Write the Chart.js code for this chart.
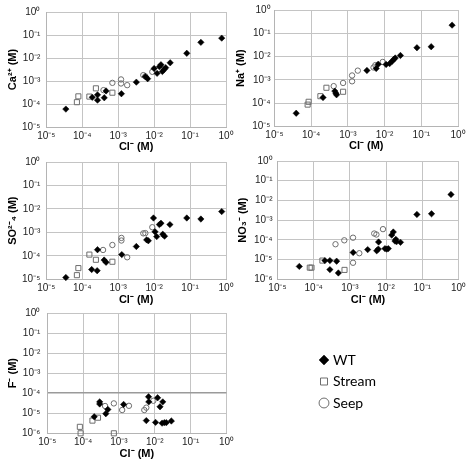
<!DOCTYPE html>
<html>
<head>
<meta charset="utf-8">
<script src="https://cdn.jsdelivr.net/npm/chart.js@4.4.0/dist/chart.umd.min.js"></script>
<style>
  body { margin: 0; background: #fff; }
  #wrap { position: relative; width: 474px; height: 468px; overflow: hidden; }
  .panel { position: absolute; }
</style>
</head>
<body>
<div id="wrap">
  <div class="panel" style="left:0;top:0;width:237px;height:156px"><canvas id="ca"></canvas></div>
  <div class="panel" style="left:233px;top:0;width:241px;height:156px"><canvas id="na"></canvas></div>
  <div class="panel" style="left:0;top:150px;width:237px;height:156px"><canvas id="so4"></canvas></div>
  <div class="panel" style="left:233px;top:150px;width:241px;height:156px"><canvas id="no3"></canvas></div>
  <div class="panel" style="left:0;top:300px;width:237px;height:168px"><canvas id="f"></canvas></div>
  <div class="panel" style="left:300px;top:330px;width:174px;height:100px"><canvas id="legend"></canvas></div>
</div>
<script>
// axis ticks (decades)
const xTicks = [1e-5, 1e-4, 1e-3, 1e-2, 1e-1, 1];
const xTickLabels = ['10⁻⁵', '10⁻⁴', '10⁻³', '10⁻²', '10⁻¹', '10⁰'];
const yTicks5 = [1e-5, 1e-4, 1e-3, 1e-2, 1e-1, 1];
const yTickLabels5 = ['10⁻⁵', '10⁻⁴', '10⁻³', '10⁻²', '10⁻¹', '10⁰'];
const yTicks6 = [1e-6, 1e-5, 1e-4, 1e-3, 1e-2, 1e-1, 1];
const yTickLabels6 = ['10⁻⁶', '10⁻⁵', '10⁻⁴', '10⁻³', '10⁻²', '10⁻¹', '10⁰'];

const seriesNames = ['WT', 'Stream', 'Seep'];

// [Cl- (M), ion (M)]
const caWT = [[3.5e-5, 6.0e-5], [1.9e-4, 1.95e-4], [2.66e-4, 2.5e-4], [2.66e-4, 1.47e-4], [4.1e-4, 1.87e-4],
  [4.6e-4, 3.7e-4], [1.23e-3, 2.8e-4], [3.2e-3, 8.9e-4], [5.7e-3, 1.55e-3], [6.6e-3, 1.26e-3],
  [1.0e-2, 3.5e-3], [1.21e-2, 2.15e-3], [1.4e-2, 4.2e-3], [1.55e-2, 5.1e-3], [1.7e-2, 2.6e-3],
  [1.9e-2, 3.2e-3], [2.1e-2, 3.8e-3], [2.8e-2, 6.2e-3], [8.1e-2, 1.6e-2], [0.20, 4.8e-2], [0.76, 7.3e-2]];
const caStream = [[7.8e-5, 2.15e-4], [7.1e-5, 1.2e-4], [1.58e-4, 2.1e-4], [2.4e-4, 4.8e-4], [6.9e-4, 3.1e-4]];
const caSeep = [[3.9e-4, 4.0e-4], [6.9e-4, 8.3e-4], [1.2e-3, 1.17e-3], [1.2e-3, 7.8e-4], [1.78e-3, 6.6e-4],
  [5.0e-3, 1.8e-3], [5.7e-3, 1.6e-3], [8.9e-3, 2.5e-3]];

const naWT = [[3.9e-5, 3.7e-5], [2.1e-4, 1.75e-4], [4.4e-4, 3.3e-4], [4.7e-4, 2.7e-4], [4.9e-4, 2.3e-4],
  [3.3e-3, 2.55e-3], [5.9e-3, 3.1e-3], [6.7e-3, 4.7e-3], [1.1e-2, 4.6e-3], [1.37e-2, 5.0e-3],
  [1.6e-2, 6.3e-3], [1.77e-2, 7.6e-3], [1.95e-2, 8.7e-3], [2.7e-2, 1.12e-2], [7.6e-2, 2.4e-2],
  [0.186, 2.66e-2], [0.69, 0.224]];
const naStream = [[8.0e-5, 8.7e-5], [8.5e-5, 1.15e-4], [1.78e-4, 2.0e-4], [2.6e-4, 4.6e-4], [7.4e-4, 3.1e-4]];
const naSeep = [[4.1e-4, 5.4e-4], [7.4e-4, 7.4e-4], [1.3e-3, 1.55e-3], [1.3e-3, 8.7e-4], [1.86e-3, 2.5e-3],
  [5.0e-3, 3.4e-3], [5.6e-3, 4.3e-3], [8.9e-3, 5.9e-3]];

const so4WT = [[3.5e-5, 1.19e-5], [1.83e-4, 2.6e-5], [2.6e-4, 2.33e-5], [2.66e-4, 1.83e-4], [4.07e-4, 6.6e-5],
  [4.6e-4, 5.3e-5], [1.26e-3, 1.13e-4], [3.2e-3, 2.5e-4], [6.2e-3, 4.8e-4], [6.9e-3, 4.4e-4],
  [9.6e-3, 4.1e-3], [1.06e-2, 1.06e-3], [1.18e-2, 6.6e-4], [1.4e-2, 2.15e-3], [1.55e-2, 2.45e-3],
  [1.74e-2, 8.3e-4], [1.95e-2, 6.9e-4], [2.75e-2, 2.15e-3], [8.1e-2, 4.1e-3], [0.20, 3.7e-3], [0.76, 7.7e-3]];
const so4Stream = [[7.8e-5, 3.0e-5], [7.1e-5, 1.5e-5], [1.58e-4, 1.13e-4], [2.4e-4, 6.8e-5], [6.9e-4, 5.6e-5]];
const so4Seep = [[3.8e-4, 1.78e-4], [6.9e-4, 2.9e-4], [1.23e-3, 5.8e-4], [1.23e-3, 4.5e-4], [1.78e-3, 8.7e-5],
  [5.0e-3, 9.1e-4], [5.7e-3, 9.3e-4], [8.9e-3, 1.66e-3]];

const no3WT = [[4.0e-5, 4.5e-6], [2.04e-4, 8.9e-6], [2.8e-4, 8.9e-6], [4.3e-4, 8.3e-6], [2.8e-4, 3.1e-6],
  [4.8e-4, 2.1e-6], [1.23e-3, 2.3e-5], [3.1e-3, 3.2e-5], [5.5e-3, 2.8e-5], [6.1e-3, 3.4e-5],
  [6.2e-3, 7.8e-5], [9.3e-3, 3.6e-5], [1.04e-2, 3.4e-5], [1.15e-2, 3.6e-5], [1.43e-2, 1.74e-4],
  [1.58e-2, 2.5e-4], [1.76e-2, 8.7e-5], [1.86e-2, 1.06e-4], [1.95e-2, 8.1e-5], [2.5e-2, 7.5e-5],
  [7.1e-2, 1.95e-3], [0.18, 2.1e-3], [0.62, 2.0e-2]];
const no3Stream = [[7.8e-5, 3.9e-6], [8.7e-5, 3.9e-6], [1.74e-4, 8.9e-6], [7.1e-4, 3.0e-6]];
const no3Seep = [[4.0e-4, 6.0e-5], [7.0e-4, 9.5e-5], [1.22e-3, 1.29e-4], [1.22e-3, 6.9e-6], [1.82e-3, 2.1e-5],
  [4.7e-3, 2.1e-4], [5.4e-3, 1.87e-4], [8.2e-3, 3.5e-4]];

const fWT = [[2.04e-4, 6.7e-6], [2.9e-4, 3.7e-5], [2.9e-4, 2.9e-5], [4.3e-4, 9.5e-6], [4.9e-4, 1.55e-5],
  [1.35e-3, 2.75e-5], [5.8e-3, 4.3e-6], [6.7e-3, 6.6e-5], [6.8e-3, 3.7e-5], [1.05e-2, 3.5e-6],
  [1.2e-2, 5.9e-5], [1.4e-2, 2.1e-5], [1.67e-2, 3.7e-5], [1.6e-2, 3.2e-6], [1.85e-2, 3.4e-6],
  [2.1e-2, 3.4e-6], [2.9e-2, 4.1e-6]];
const fStream = [[8.1e-5, 2.1e-6], [8.5e-5, 1.0e-6], [1.82e-4, 4.3e-6], [2.6e-4, 6.0e-6], [7.2e-4, 1.0e-6]];
const fSeep = [[4.1e-4, 2.3e-5], [7.2e-4, 3.1e-5], [1.23e-3, 1.45e-5], [1.9e-3, 2.35e-5], [5.1e-3, 1.45e-5],
  [5.8e-3, 1.9e-5], [9.1e-3, 4.2e-5]];

Chart.defaults.font.family = '"Liberation Sans", Arial, sans-serif';
Chart.defaults.color = '#222';

const markerStyles = {
  WT: { pointStyle: 'rectRot', pointRadius: 3.2, backgroundColor: '#000', borderColor: '#000', borderWidth: 0.5 },
  Stream: { pointStyle: 'rect', pointRadius: 3.6, backgroundColor: 'rgba(255,255,255,0)', borderColor: '#6e6e6e', borderWidth: 1 },
  Seep: { pointStyle: 'circle', pointRadius: 2.7, backgroundColor: 'rgba(255,255,255,0)', borderColor: '#6e6e6e', borderWidth: 1 }
};

function series(name, points) {
  const s = markerStyles[name];
  return {
    label: name,
    data: points.map(([x, y]) => ({ x, y })),
    pointStyle: s.pointStyle,
    pointRadius: s.pointRadius,
    pointHoverRadius: s.pointRadius,
    backgroundColor: s.backgroundColor,
    borderColor: s.borderColor,
    borderWidth: s.borderWidth,
    clip: false
  };
}

const titleFont = { size: 11, weight: 'bold', lineHeight: 1 };
const tickFont = { size: 10 };

// box: y-axis width, top/right padding, x-axis height, title offsets
function makePanel(id, cfg) {
  const b = cfg.box;
  return new Chart(document.getElementById(id), {
    type: 'scatter',
    data: {
      datasets: [series('WT', cfg.wt), series('Stream', cfg.stream), series('Seep', cfg.seep)]
    },
    options: {
      responsive: true,
      maintainAspectRatio: false,
      animation: false,
      events: [],
      layout: { padding: { top: b.top, right: b.right, left: 0, bottom: 0 } },
      plugins: { legend: { display: false }, tooltip: { enabled: false } },
      scales: {
        x: {
          type: 'logarithmic',
          min: 1e-5,
          max: 1,
          afterBuildTicks: (scale) => { scale.ticks = xTicks.map(v => ({ value: v })); },
          afterFit: (scale) => { scale.height = b.xH; },
          ticks: {
            autoSkip: false, maxRotation: 0, padding: 3, font: tickFont, color: '#222',
            callback: (value, index) => xTickLabels[index]
          },
          grid: { color: '#c4c4c4', lineWidth: 1, drawTicks: false },
          border: { color: '#b4b4b4', width: 1 },
          title: {
            display: true, text: 'Cl⁻ (M)', color: '#000', font: titleFont,
            padding: { top: 0, bottom: b.xTitlePad }
          }
        },
        y: {
          type: 'logarithmic',
          min: cfg.yTicks[0],
          max: 1,
          afterBuildTicks: (scale) => { scale.ticks = cfg.yTicks.map(v => ({ value: v })); },
          afterFit: (scale) => { scale.width = b.yW; },
          ticks: {
            autoSkip: false, padding: b.yTickPad, font: tickFont, color: '#222',
            callback: (value, index) => cfg.yTickLabels[index]
          },
          grid: {
            drawTicks: false,
            color: (ctx) => (cfg.strongLine && ctx.tick && ctx.tick.value === cfg.strongLine) ? '#9a9a9a' : '#c4c4c4',
            lineWidth: (ctx) => (cfg.strongLine && ctx.tick && ctx.tick.value === cfg.strongLine) ? 1.5 : 1
          },
          border: { color: '#b4b4b4', width: 1 },
          title: {
            display: true, text: cfg.yTitle, color: '#000', font: titleFont,
            padding: { top: b.yTitlePad, bottom: 0 }
          }
        }
      }
    }
  });
}

makePanel('ca', {
  yTitle: 'Ca²⁺ (M)', yTicks: yTicks5, yTickLabels: yTickLabels5,
  wt: caWT, stream: caStream, seep: caSeep,
  box: { yW: 46.3, top: 7, right: 11, xH: 29, yTickPad: 6, yTitlePad: 7.2, xTitlePad: 3.8 }
});
makePanel('na', {
  yTitle: 'Na⁺ (M)', yTicks: yTicks5, yTickLabels: yTickLabels5,
  wt: naWT, stream: naStream, seep: naSeep,
  box: { yW: 41.5, top: 6.5, right: 16, xH: 29.5, yTickPad: 4, yTitlePad: 2.5, xTitlePad: 4.8 }
});
makePanel('so4', {
  yTitle: 'SO²⁻₄ (M)', yTicks: yTicks5, yTickLabels: yTickLabels5,
  wt: so4WT, stream: so4Stream, seep: so4Seep,
  box: { yW: 46.3, top: 9.3, right: 11, xH: 26.7, yTickPad: 6, yTitlePad: 7.8, xTitlePad: 0.5 }
});
makePanel('no3', {
  yTitle: 'NO₃⁻ (M)', yTicks: yTicks6, yTickLabels: yTickLabels6,
  wt: no3WT, stream: no3Stream, seep: no3Seep,
  box: { yW: 44.5, top: 8, right: 15.5, xH: 26.7, yTickPad: 5, yTitlePad: 4.5, xTitlePad: 0.5 }
});
makePanel('f', {
  yTitle: 'F⁻ (M)', yTicks: yTicks6, yTickLabels: yTickLabels6,
  wt: fWT, stream: fStream, seep: fSeep, strongLine: 1e-4,
  box: { yW: 47.3, top: 12.7, right: 9.7, xH: 34.7, yTickPad: 7, yTitlePad: 7.2, xTitlePad: 8.2 }
});

// shared legend, drawn by Chart.js in its own small canvas
new Chart(document.getElementById('legend'), {
  type: 'scatter',
  data: { datasets: seriesNames.map(n => series(n, [])) },
  options: {
    responsive: true,
    maintainAspectRatio: false,
    animation: false,
    events: [],
    layout: { padding: { left: 14.5, top: 15.5 } },
    scales: { x: { display: false }, y: { display: false } },
    plugins: {
      tooltip: { enabled: false },
      legend: {
        position: 'left',
        align: 'start',
        labels: {
          usePointStyle: true,
          boxWidth: 4,
          boxHeight: 7,
          padding: 7.5,
          color: '#000',
          font: { family: 'Lato, "Open Sans", sans-serif', size: 14 }
        }
      }
    }
  }
});
</script>
</body>
</html>
